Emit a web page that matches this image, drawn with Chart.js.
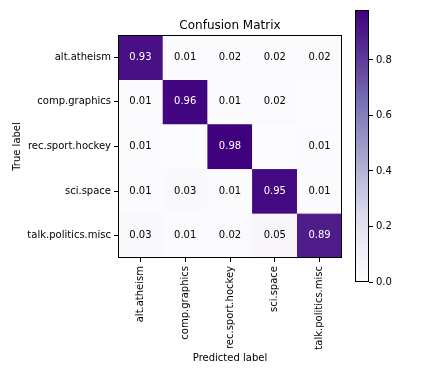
<!DOCTYPE html>
<html>
<head>
<meta charset="utf-8">
<script src="https://cdn.jsdelivr.net/npm/chart.js@4/dist/chart.umd.min.js"></script>
<style>
  body { margin: 0; background: #fff; }
  #wrap { position: relative; width: 422px; height: 385px; }
  #matrix { position: absolute; left: 0; top: 0; }
  #cbar { position: absolute; left: 340px; top: 0; }
</style>
</head>
<body>
<div id="wrap">
  <canvas id="matrix" width="422" height="385"></canvas>
  <canvas id="cbar" width="82" height="300"></canvas>
</div>
<script>
const trueLabels = ['alt.atheism', 'comp.graphics', 'rec.sport.hockey', 'sci.space', 'talk.politics.misc'];
const predictedLabels = ['alt.atheism', 'comp.graphics', 'rec.sport.hockey', 'sci.space', 'talk.politics.misc'];
// rows = true label, columns = predicted label (0 = cell left blank)
const rowAtheism  = [0.93, 0.01, 0.02, 0.02, 0.02];
const rowGraphics = [0.01, 0.96, 0.01, 0.02, 0];
const rowHockey   = [0.01, 0,    0.98, 0,    0.01];
const rowSpace    = [0.01, 0.03, 0.01, 0.95, 0.01];
const rowPolitics = [0.03, 0.01, 0.02, 0.05, 0.89];
const colorbarTicks = [0, 0.2, 0.4, 0.6, 0.8];

const rows = [rowAtheism, rowGraphics, rowHockey, rowSpace, rowPolitics];
const vmax = Math.max(...rows.flat());
const fontFamily = '"DejaVu Sans", sans-serif';

// matplotlib "Purples"
const purples = ['#fcfbfd', '#efedf5', '#dadaeb', '#bcbddc', '#9e9ac8', '#807dba', '#6a51a3', '#54278f', '#3f007d'];

function hexToRgb(h) {
    return [parseInt(h.slice(1, 3), 16), parseInt(h.slice(3, 5), 16), parseInt(h.slice(5, 7), 16)];
}

function purpleFor(v) {
    const t = Math.min(Math.max(v / vmax, 0), 1) * (purples.length - 1);
    const i = Math.min(Math.floor(t), purples.length - 2);
    const f = t - i;
    const a = hexToRgb(purples[i]);
    const b = hexToRgb(purples[i + 1]);
    const c = a.map((x, k) => Math.round(x + (b[k] - x) * f));
    return `rgb(${c[0]}, ${c[1]}, ${c[2]})`;
}

const cellText = {
    id: 'cellText',
    afterDatasetsDraw(chart) {
        const { ctx, scales: { x, y } } = chart;
        ctx.save();
        ctx.font = `10px ${fontFamily}`;
        ctx.textAlign = 'center';
        ctx.textBaseline = 'middle';
        rows.forEach((row, r) => {
            row.forEach((v, c) => {
                if (!v) return;
                ctx.fillStyle = v > vmax / 2 ? '#ffffff' : '#000000';
                ctx.fillText(v.toFixed(2), x.getPixelForValue(c), y.getPixelForValue(r));
            });
        });
        ctx.restore();
    },
    afterDraw(chart) {
        const { ctx, chartArea: a } = chart;
        ctx.save();
        ctx.strokeStyle = '#000';
        ctx.lineWidth = 1;
        ctx.strokeRect(Math.round(a.left) + 0.5, Math.round(a.top) + 0.5, Math.round(a.right - a.left) - 1, Math.round(a.bottom - a.top) - 1);
        ctx.fillStyle = '#000';
        ctx.textAlign = 'center';
        ctx.textBaseline = 'middle';
        ctx.font = `12px ${fontFamily}`;
        ctx.fillText('Confusion Matrix', (a.left + a.right) / 2, 26);
        ctx.font = `10px ${fontFamily}`;
        ctx.fillText('Predicted label', (a.left + a.right) / 2, 358);
        ctx.translate(17, (a.top + a.bottom) / 2);
        ctx.rotate(-Math.PI / 2);
        ctx.fillText('True label', 0, 0);
        ctx.restore();
    }
};

new Chart(document.getElementById('matrix'), {
    type: 'bar',
    data: {
        labels: predictedLabels,
        datasets: rows.map((row, r) => ({
            label: trueLabels[r],
            data: row.map(() => [r - 0.5, r + 0.5]),
            backgroundColor: row.map(purpleFor),
            borderColor: row.map(purpleFor),
            borderWidth: 0.5,
            borderSkipped: false,
            barPercentage: 1,
            categoryPercentage: 1,
            grouped: false
        }))
    },
    options: {
        responsive: false,
        animation: false,
        layout: { padding: { left: 0, top: 35, right: 80, bottom: 0 } },
        plugins: {
            legend: { display: false },
            tooltip: { enabled: false }
        },
        scales: {
            x: {
                type: 'category',
                offset: true,
                grid: { drawOnChartArea: false, offset: false, tickLength: 4, color: '#000' },
                border: { display: false },
                ticks: {
                    minRotation: 90,
                    maxRotation: 90,
                    padding: 4,
                    color: '#000',
                    font: { family: fontFamily, size: 10 }
                },
                afterFit(scale) { scale.height = 127; }
            },
            y: {
                type: 'linear',
                min: -0.5,
                max: 4.5,
                reverse: true,
                afterBuildTicks(scale) {
                    scale.ticks = trueLabels.map((_, i) => ({ value: i }));
                },
                grid: { drawOnChartArea: false, tickLength: 4, color: '#000' },
                border: { display: false },
                ticks: {
                    padding: 3,
                    color: '#000',
                    font: { family: fontFamily, size: 10 },
                    callback: (v) => trueLabels[v]
                },
                afterFit(scale) { scale.width = 118; }
            }
        }
    },
    plugins: [cellText]
});

const cbarFrame = {
    id: 'cbarFrame',
    afterDraw(chart) {
        const { ctx, chartArea: a } = chart;
        ctx.save();
        ctx.strokeStyle = '#000';
        ctx.lineWidth = 1;
        ctx.strokeRect(Math.round(a.left) + 0.5, Math.round(a.top) + 0.5, Math.round(a.right - a.left) - 1, Math.round(a.bottom - a.top) - 1);
        ctx.restore();
    }
};

new Chart(document.getElementById('cbar'), {
    type: 'bar',
    data: {
        labels: ['scale'],
        datasets: [{
            data: [[0, vmax]],
            backgroundColor: (c) => {
                const a = c.chart.chartArea;
                if (!a) return purples[4];
                const g = c.chart.ctx.createLinearGradient(0, a.bottom, 0, a.top);
                purples.forEach((col, i) => g.addColorStop(i / (purples.length - 1), col));
                return g;
            },
            borderWidth: 0,
            barPercentage: 1,
            categoryPercentage: 1
        }]
    },
    options: {
        responsive: false,
        animation: false,
        layout: { padding: { left: 15, top: 10, right: 0, bottom: 18 } },
        plugins: {
            legend: { display: false },
            tooltip: { enabled: false }
        },
        scales: {
            x: { display: false },
            y: {
                position: 'right',
                min: 0,
                max: vmax,
                afterBuildTicks(scale) {
                    scale.ticks = colorbarTicks.map(v => ({ value: v }));
                },
                grid: { drawOnChartArea: false, tickLength: 4, color: '#000' },
                border: { display: false },
                ticks: {
                    padding: 3,
                    color: '#000',
                    font: { family: fontFamily, size: 10 },
                    callback: (v) => v.toFixed(1)
                },
                afterFit(scale) { scale.width = 53; }
            }
        }
    },
    plugins: [cbarFrame]
});
</script>
</body>
</html>
